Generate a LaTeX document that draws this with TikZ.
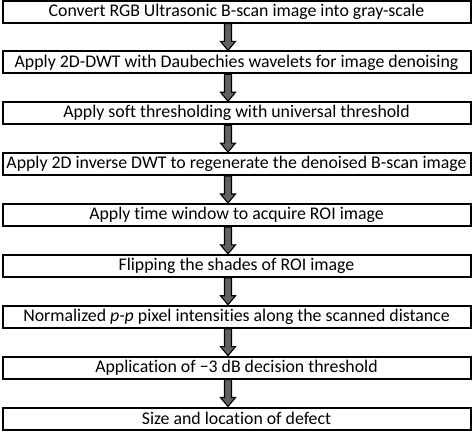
\documentclass[tikz,border=0pt]{standalone}
\usepackage{fontspec}
\setmainfont{Carlito}[Ligatures=NoCommon]
\usetikzlibrary{calc}
\newcommand{\blkarrow}[2]{%
  \draw[barrow] let \p1=(#1.south), \p2=(#2.north) in
    (224.5pt,\y1) -- (231.5pt,\y1) -- (231.5pt,\y2+9pt) -- (235.5pt,\y2+9pt) --
    (228pt,\y2) -- (220.5pt,\y2+9pt) -- (224.5pt,\y2+9pt) -- cycle;}
\begin{document}
\begin{tikzpicture}[x=1pt,y=1pt,
  stepbox/.style={draw=black, line width=2pt, fill=white, minimum width=468pt,
    minimum height=22pt, inner sep=0pt, font=\fontsize{17.8}{20}\selectfont},
  barrow/.style={draw=black, line width=1.1pt, fill=black!62, line join=miter}]
\useasboundingbox (0,0) rectangle (474,-432);
\foreach \i/\t in {1/{Convert RGB Ultrasonic B-scan image into gray-scale},
  2/{Apply 2D-DWT with Daubechies wavelets for image denoising},
  3/{Apply soft thresholding with universal threshold},
  4/{Apply 2D inverse DWT to regenerate the denoised B-scan image},
  5/{Apply time window to acquire ROI image},
  6/{Flipping the shades of ROI image},
  7/{Normalized \textit{p-p} pixel intensities along the scanned distance},
  8/{Application of −3 dB decision threshold},
  9/{Size and location of defect}}
  \node[stepbox] (b\i) at (236.5,{-11.5-50.875*(\i-1)}) {\t};
\blkarrow{b1}{b2}
\blkarrow{b2}{b3}
\blkarrow{b3}{b4}
\blkarrow{b4}{b5}
\blkarrow{b5}{b6}
\blkarrow{b6}{b7}
\blkarrow{b7}{b8}
\blkarrow{b8}{b9}
\end{tikzpicture}
\end{document}
